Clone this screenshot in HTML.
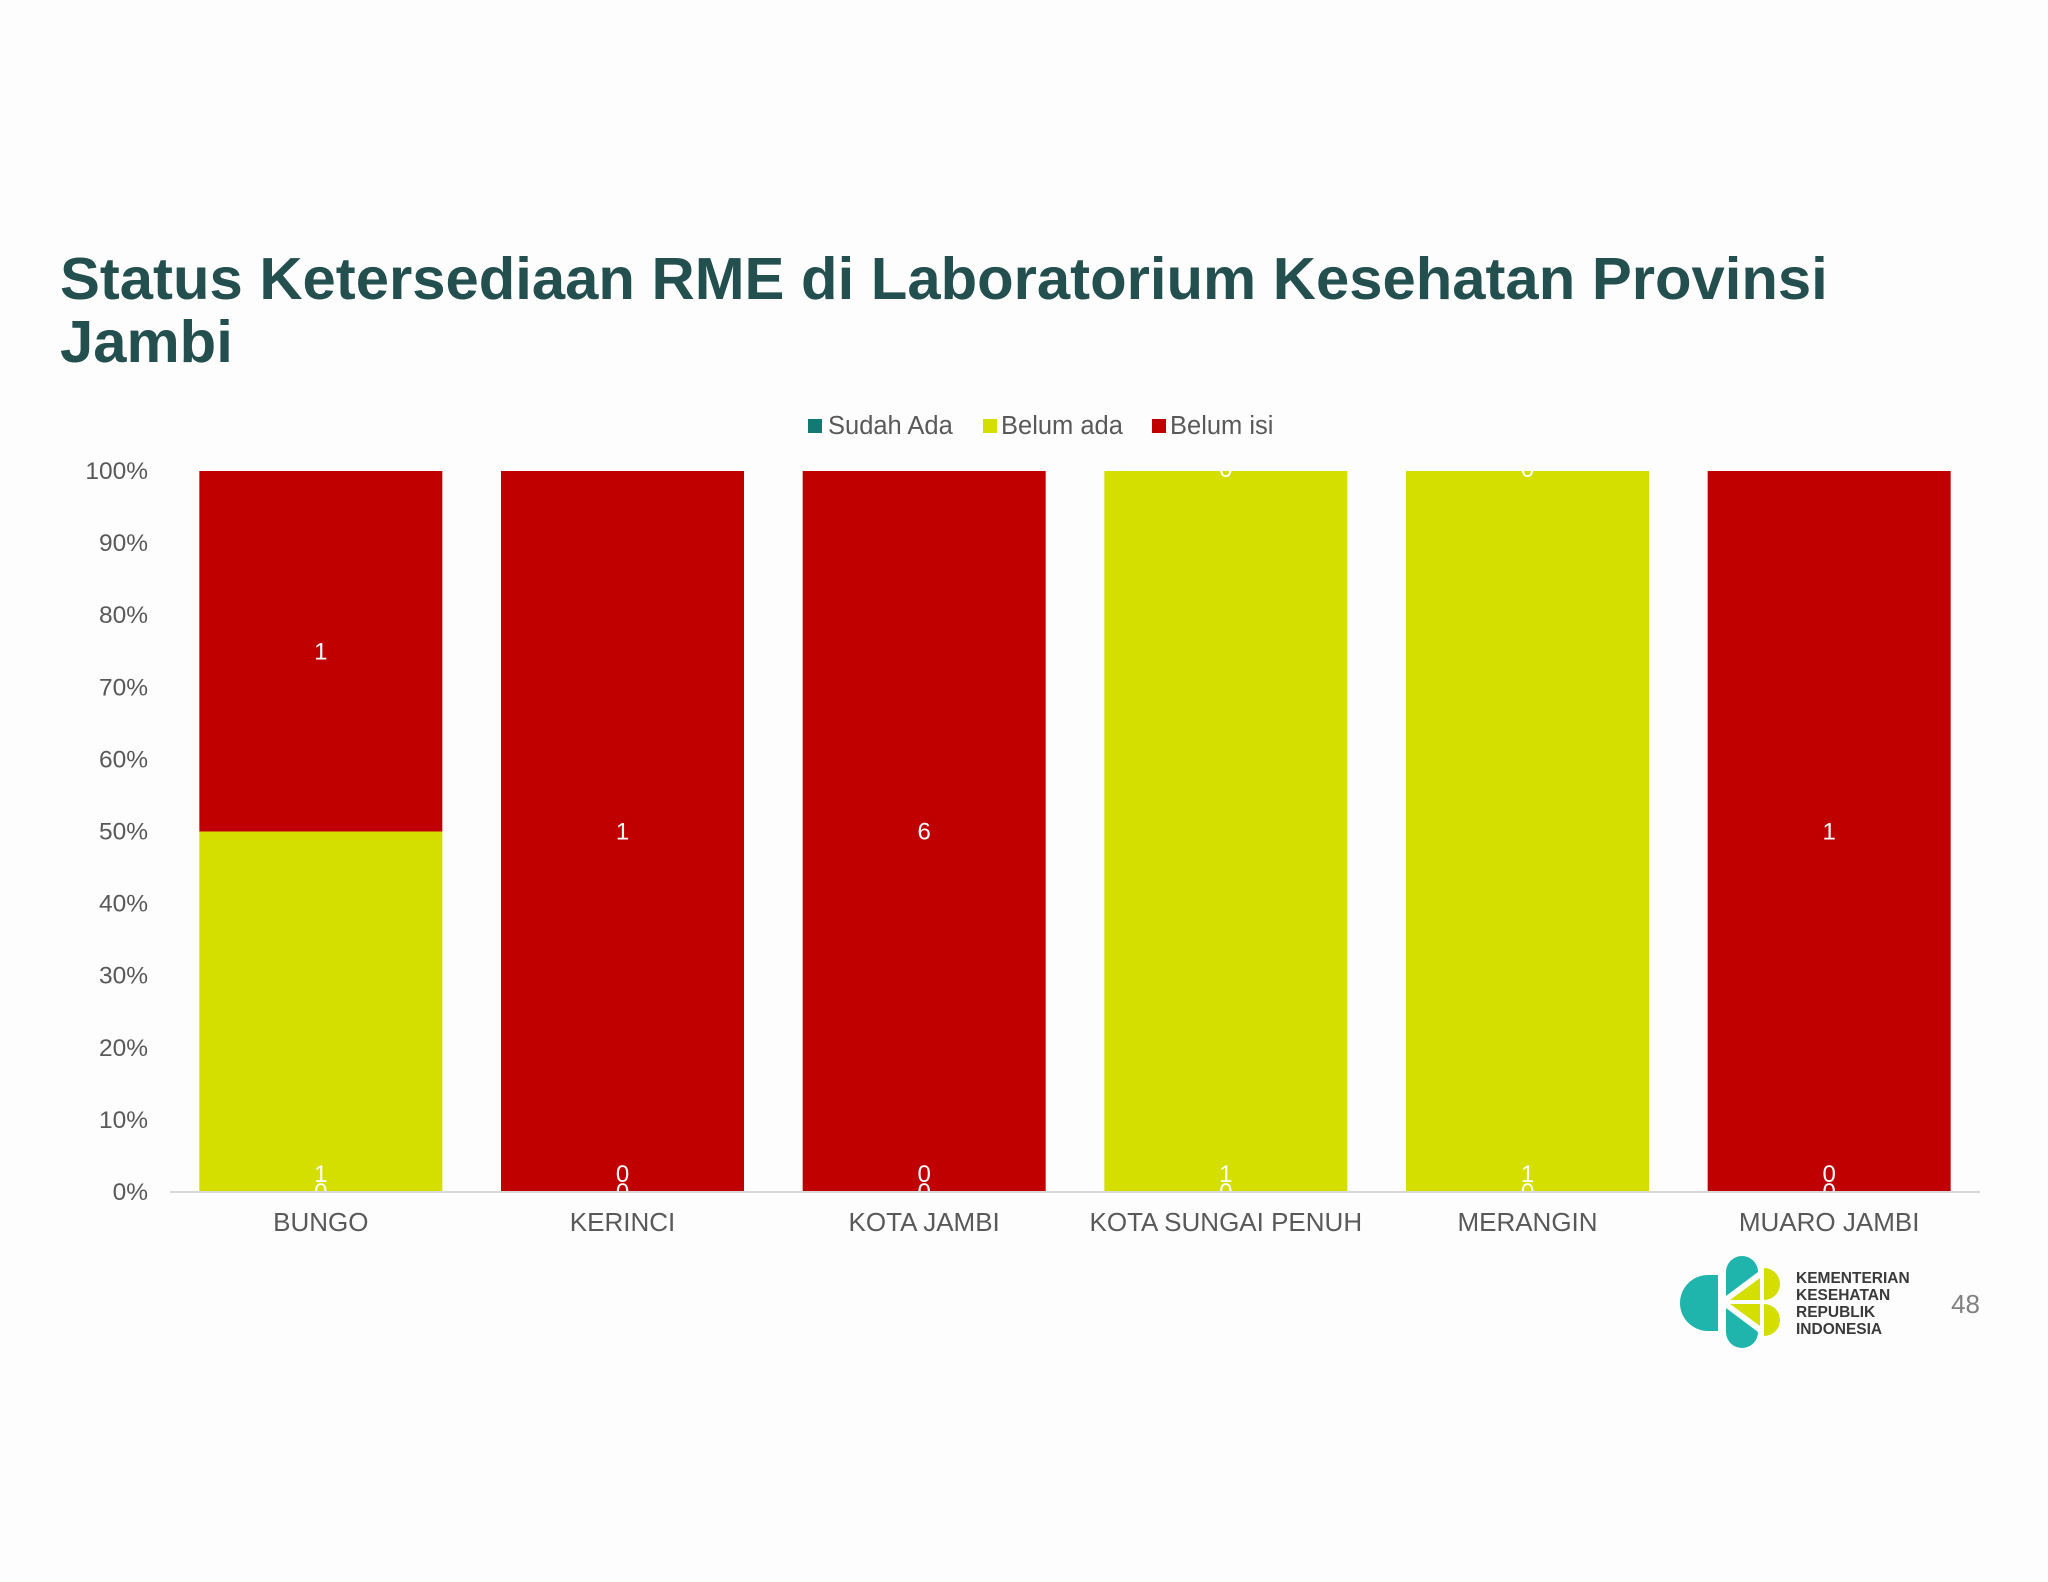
<!DOCTYPE html>
<html><head><meta charset="utf-8"><style>
html,body{margin:0;padding:0;background:#fdfdfd;}
svg{display:block;font-family:"Liberation Sans",Arial,sans-serif;}
</style></head><body>
<svg width="2048" height="1582" viewBox="0 0 2048 1582">
<rect width="2048" height="1582" fill="#fdfdfd"/>
<g fill="#234f4f" font-weight="bold" font-size="59.8">
<text x="60" y="299">Status Ketersediaan RME di Laboratorium Kesehatan Provinsi</text>
<text x="60" y="362">Jambi</text>
</g>
<g font-size="25.5" fill="#595959">
<g><rect x="808" y="419" width="14" height="14" fill="#117a72"/><text x="828" y="434">Sudah Ada</text></g>
<g><rect x="983" y="419" width="14" height="14" fill="#d4df00"/><text x="1001" y="434">Belum ada</text></g>
<g><rect x="1152" y="419" width="14" height="14" fill="#c00000"/><text x="1170" y="434">Belum isi</text></g>
</g>
<defs><clipPath id="pc"><rect x="170" y="471" width="1810" height="721"/></clipPath></defs>
<g id="yaxis" font-size="24.5" fill="#595959" text-anchor="end"></g>
<g id="bars"></g>
<g id="labels" clip-path="url(#pc)" font-size="24" fill="#fff" text-anchor="middle"></g>
<line x1="170" y1="1192" x2="1980" y2="1192" stroke="#d9d9d9" stroke-width="2"/>
<g id="xaxis" font-size="26" fill="#595959" text-anchor="middle"></g>
<g>
<path d="M1718 1275 L1718 1331 L1708 1331 A18 18 0 0 1 1708 1275 Z" fill="#1fb5ad"/>
<path d="M1726 1296 L1726 1272 A16 16 0 0 1 1758 1272 Z" fill="#1fb5ad"/>
<path d="M1726 1308 L1758 1332 A16 16 0 0 1 1726 1332 Z" fill="#1fb5ad"/>
<path d="M1730 1300 L1760 1278 L1760 1300 Z" fill="#d4df00"/>
<path d="M1730 1304 L1760 1304 L1760 1326 Z" fill="#d4df00"/>
<path d="M1764 1268 A16 16 0 0 1 1780 1284 A16 16 0 0 1 1764 1300 Z" fill="#d4df00"/>
<path d="M1764 1304 A16 16 0 0 1 1780 1320 A16 16 0 0 1 1764 1336 Z" fill="#d4df00"/>
<g font-size="15.5" font-weight="bold" fill="#3a3a3a">
<text x="1796" y="1283">KEMENTERIAN</text><text x="1796" y="1300">KESEHATAN</text><text x="1796" y="1317">REPUBLIK</text><text x="1796" y="1334">INDONESIA</text>
</g>
</g>
<text x="1980" y="1313" text-anchor="end" font-size="26" fill="#808080">48</text>
</svg>
<script>
const categories=["BUNGO","KERINCI","KOTA JAMBI","KOTA SUNGAI PENUH","MERANGIN","MUARO JAMBI"];
const sudahAda=[0,0,0,0,0,0];
const belumAda=[1,0,0,1,1,0];
const belumIsi=[1,1,6,0,0,1];
const yTicks=[0,10,20,30,40,50,60,70,80,90,100];
const NS="http://www.w3.org/2000/svg";
const X0=170,X1=1980,Y0=1192,Y1=471;
const band=(X1-X0)/categories.length, bw=243;
const y=p=>Y0-(Y0-Y1)*p/100;
const xc=i=>X0+band*(i+0.5);
function mk(t,a,parent,txt){const e=document.createElementNS(NS,t);for(const k in a)e.setAttribute(k,a[k]);if(txt!==undefined)e.textContent=txt;parent.appendChild(e);return e;}
const ya=document.getElementById('yaxis'),bars=document.getElementById('bars'),lab=document.getElementById('labels'),xa=document.getElementById('xaxis');
yTicks.forEach(t=>{const e=mk('text',{x:148,y:y(t)+8},ya,t+'%');

});
const series=[{v:sudahAda,c:"#117a72",n:"sudah-ada"},{v:belumAda,c:"#d4df00",n:"belum-ada"},{v:belumIsi,c:"#c00000",n:"belum-isi"}];
categories.forEach((cat,i)=>{
 const tot=sudahAda[i]+belumAda[i]+belumIsi[i];let acc=0;
 series.forEach((s,si)=>{
  const p0=acc/tot*100;acc+=s.v[i];const p1=acc/tot*100;
  if(p1>p0){const r=mk('rect',{x:xc(i)-bw/2,y:y(p1),width:bw,height:y(p0)-y(p1),fill:s.c},bars);
  
  }
  let ly;
  if(si===0) ly=y(p0)+8;
  else if(si===1) ly=y(p0)-10;
  else ly=(p1>p0)?(y(p0)+y(p1))/2+8:y(p1)+6;
  const t=mk('text',{x:xc(i),y:ly},lab,String(s.v[i]));
  
  
 });
 const xl=mk('text',{x:xc(i),y:1231},xa,cat);
 
 
});
</script>
</body></html>
